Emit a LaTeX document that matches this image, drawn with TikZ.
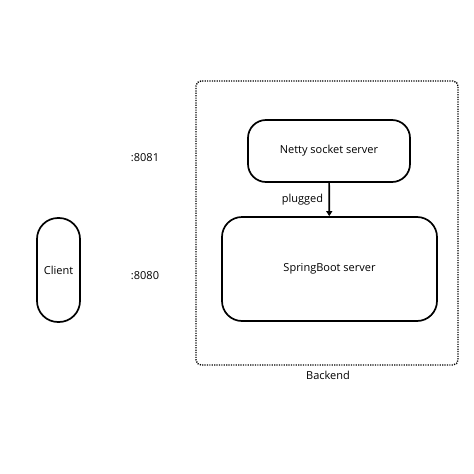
\documentclass[tikz,border=0pt]{standalone}
\usepackage{fontspec}
\setmainfont{Open Sans}
\usetikzlibrary{arrows.meta}
\begin{document}
\begin{tikzpicture}[x=1pt,y=-1pt,
    box/.style={draw, line width=1.7pt, rounded corners=#1, inner sep=0pt},
    lbl/.style={font=\fontsize{11}{13}\selectfont}]
    \useasboundingbox (0,0) rectangle (474,474);
    \node[box=21pt, minimum width=43pt, minimum height=104pt, lbl] (client) at (58.5,270) {Client};
    \node[draw, line width=1.4pt, dash pattern=on 1.2pt off 1.2pt, rounded corners=5pt, minimum width=262pt, minimum height=284pt] (backend) at (327,223) {};
    \node[box=18pt, minimum width=162pt, minimum height=62pt, lbl] (netty) at (329,151) {Netty socket server};
    \node[box=20pt, minimum width=215pt, minimum height=104pt, lbl] (spring) at (329.5,269) {SpringBoot server};
    \node[lbl] (p8081) at (145,158) {:8081};
    \node[lbl] (p8080) at (145,276) {:8080};
    \node[lbl] (backendlbl) at (328,375) {Backend};
    
    \draw[line width=1.7pt, -{Triangle[length=5pt,width=6pt]}] (netty) -- node[lbl, left=2pt] {plugged} (spring);
\end{tikzpicture}
\end{document}
